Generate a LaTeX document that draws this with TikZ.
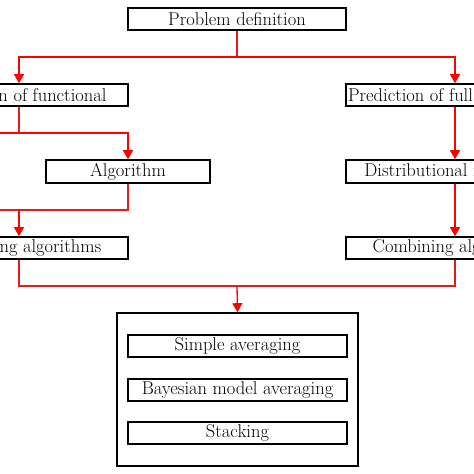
\documentclass[tikz,border=0pt]{standalone}
\usepackage{tikz}
\usetikzlibrary{positioning,arrows.meta}

\definecolor{linkred}{RGB}{225,30,30}

\tikzset{
    box/.style={draw=black, line width=1.6pt, minimum width=218pt, minimum height=22pt,
        inner sep=1pt, font=\fontsize{18.5}{21}\selectfont},
    link/.style={draw=linkred, line width=1.3pt},
    arrow/.style={link, -{Triangle[width=10pt,length=9pt]}, red}
}

\begin{document}
\begin{tikzpicture}[x=1pt, y=-1pt]
    \useasboundingbox (0,0) rectangle (474,474);
    \clip (0,0) rectangle (474,474);

    % Top box
    \node[box] (prob) at (237,19) {Problem definition};

    % Second level
    \node[box] (pfun)  at (19,95)  {Prediction of functional};
    \node[box, align=left] (pfull) at (455,95) {\makebox[214pt][l]{Prediction of full distribution}};

    % Third level
    \node[box, minimum width=164pt, minimum height=23pt] (algo) at (128,171.5) {Algorithm};
    \node[box, minimum height=23pt] (dist) at (455,171.5) {Distributional regression};

    % Fourth level
    \node[box] (combl) at (19,248)  {Combining algorithms};
    \node[box] (combr) at (455,248) {Combining algorithms};

    % Methods box
    \node[draw=black, line width=1.6pt, minimum width=241pt, minimum height=153pt] (methods) at (237.5,389.5) {};
    \node[box, minimum width=219pt] (simple) at (237.5,346) {Simple averaging};
    \node[box, minimum width=219pt] (bayes)  at (237.5,390) {Bayesian model averaging};
    \node[box, minimum width=219pt] (stack)  at (237.5,433) {Stacking};

    % Junction points
    \coordinate (split) at (237,57);
    \coordinate (offa) at (-40,133);
    \coordinate (offb) at (-40,210);
    \coordinate (merge) at (237,286);

    % Connectors
    \draw[link] (prob.south) -- (split);
    \draw[arrow] (split) -| (pfun.north);
    \draw[arrow] (split) -| (pfull.north);

    \draw[link] (pfun.south) -- (pfun.south |- offa);
    \draw[arrow] (offa) -| (algo.north);

    \draw[link] (algo.south) |- (offb);
    \draw[arrow] (combl.north |- offb) -- (combl.north);

    \draw[arrow] (pfull.south) -- (dist.north);
    \draw[arrow] (dist.south) -- (combr.north);

    \draw[link] (combl.south) |- (merge) -| (combr.south);
    \draw[arrow] (merge) -- (methods.north);
\end{tikzpicture}
\end{document}
